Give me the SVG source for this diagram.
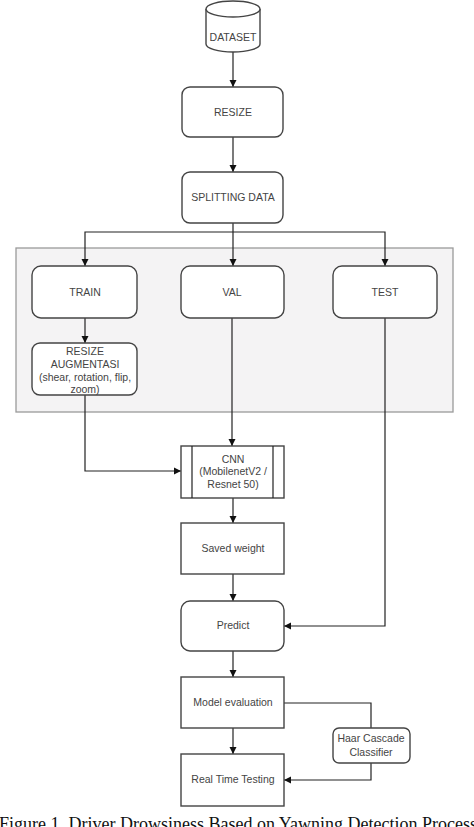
<svg xmlns="http://www.w3.org/2000/svg" width="474" height="827" viewBox="0 0 474 827">
<defs>
<marker id="arr" markerUnits="userSpaceOnUse" markerWidth="8" markerHeight="8" refX="7" refY="4" orient="auto">
<path d="M0,0.5 L7,4 L0,7.5 z" fill="#111"/>
</marker>
<style>
.box{fill:#fff;stroke:#444;stroke-width:1.4}
.t{font-family:"Liberation Sans",Arial,sans-serif;font-size:10.5px;fill:#444;text-anchor:middle;dominant-baseline:central}
.c{fill:none;stroke:#222;stroke-width:1.2}
.ca{fill:none;stroke:#222;stroke-width:1.2;marker-end:url(#arr)}
.cap{font-family:"Liberation Serif","Times New Roman",serif;font-size:18px;fill:#111}
</style>
</defs>
<rect width="474" height="827" fill="#fff"/>
<g id="panel"><rect x="16" y="248" width="437" height="164" fill="#f4f3f4" stroke="#9a9a9a" stroke-width="1.3"/></g>
<g id="connectors">
<path class="ca" d="M233,52 V87"/>
<path class="ca" d="M233,137 V172"/>
<path class="ca" d="M233,223 V266"/>
<path class="ca" d="M233,232 H85 V266"/>
<path class="ca" d="M233,232 H385 V266"/>
<path class="ca" d="M85,318 V343"/>
<path class="ca" d="M85,395 V471 H181"/>
<path class="ca" d="M232,318 V446"/>
<path class="ca" d="M385,318 V626 H284"/>
<path class="ca" d="M233,498 V523"/>
<path class="ca" d="M233,574 V601"/>
<path class="ca" d="M233,651 V677"/>
<path class="ca" d="M233,728 V754"/>
<path class="c" d="M284,703 H371 V728"/>
<path class="ca" d="M371,763 V780 H284"/>
</g>
<g id="dataset">
<path class="box" d="M206,9 V44 A27,8 0 0 0 260,44 V9"/>
<ellipse class="box" cx="233" cy="9" rx="27" ry="8"/>
<text class="t" x="233" y="37">DATASET</text>
</g>
<g id="resize"><rect class="box" x="182" y="87" width="101" height="50" rx="8"/><text class="t" x="233" y="112">RESIZE</text></g>
<g id="splitting"><rect class="box" x="182" y="172" width="101" height="51" rx="8"/><text class="t" x="233" y="197">SPLITTING DATA</text></g>
<g id="train"><rect class="box" x="32" y="266" width="105" height="52" rx="9"/><text class="t" x="85" y="292">TRAIN</text></g>
<g id="val"><rect class="box" x="181" y="266" width="103" height="52" rx="9"/><text class="t" x="232" y="292">VAL</text></g>
<g id="test"><rect class="box" x="333" y="266" width="104" height="52" rx="9"/><text class="t" x="385" y="292">TEST</text></g>
<g id="augmentasi"><rect class="box" x="32" y="343" width="105" height="52" rx="8"/>
<text class="t" x="85" y="351">RESIZE</text>
<text class="t" x="85" y="364">AUGMENTASI</text>
<text class="t" x="85" y="377">(shear, rotation, flip,</text>
<text class="t" x="85" y="389">zoom)</text></g>
<g id="cnn"><rect class="box" x="181" y="446" width="103" height="52"/>
<path class="c" d="M192,446 V498 M273,446 V498" stroke="#444"/>
<text class="t" x="233" y="459">CNN</text>
<text class="t" x="233" y="471">(MobilenetV2 /</text>
<text class="t" x="233" y="484">Resnet 50)</text></g>
<g id="saved"><rect class="box" x="181" y="523" width="103" height="51"/><text class="t" x="233" y="548">Saved weight</text></g>
<g id="predict"><rect class="box" x="181" y="601" width="103" height="50" rx="9"/><text class="t" x="233" y="625">Predict</text></g>
<g id="evaluation"><rect class="box" x="181" y="677" width="103" height="51"/><text class="t" x="233" y="702">Model evaluation</text></g>
<g id="realtime"><rect class="box" x="181" y="754" width="103" height="52"/><text class="t" x="233" y="779">Real Time Testing</text></g>
<g id="haar"><rect class="box" x="333" y="728" width="77" height="35" rx="6"/>
<text class="t" x="371" y="738">Haar Cascade</text>
<text class="t" x="371" y="752">Classifier</text></g>
<text class="cap" x="-1" y="830">Figure 1. Driver Drowsiness Based on Yawning Detection Process</text>
</svg>
